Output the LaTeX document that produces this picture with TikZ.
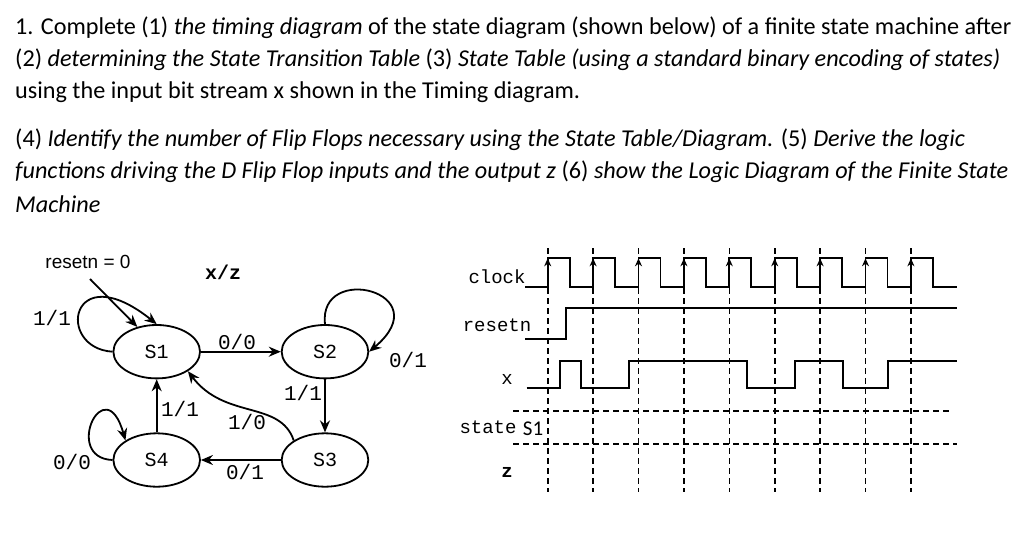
\documentclass[tikz,border=0pt]{standalone}
\usepackage{fontspec}
\setmainfont{Carlito}
\newfontfamily\monof{Liberation Mono}
\newfontfamily\arialf{Liberation Sans}
\usetikzlibrary{arrows.meta,shapes.geometric}
\begin{document}
\begin{tikzpicture}[x=1pt,y=-1pt,
  txt/.style={anchor=west,inner sep=0pt,font=\fontsize{24.2}{28}\selectfont},
  st/.style={draw,ellipse,line width=1.8pt,minimum width=86.6pt,minimum height=53.4pt,inner sep=0pt,font=\monof\fontsize{20}{22}\selectfont},
  lbl/.style={inner sep=0pt,font=\monof\fontsize{21}{23}\selectfont},
  tr/.style={line width=1.8pt,-{Stealth[length=12pt,width=10pt]}},
  wave/.style={line width=1.8pt},
  grid/.style={line width=1.6pt,dashed,dash pattern=on 5.5pt off 4.5pt},
  tl/.style={inner sep=0pt,font=\monof\fontsize{19}{21}\selectfont}]
\useasboundingbox (0,0) rectangle (1024,543);
% text
\node[txt] (t1) at (15,28) {1. Complete (1) \textit{the timing diagram} of the state diagram (shown below) of a finite state machine after};
\node[txt] (t2) at (15,60) {(2) \textit{determining the State Transition Table} (3) \textit{State Table (using a standard binary encoding of states)}};
\node[txt] (t3) at (15,92) {using the input bit stream x shown in the Timing diagram.};
\node[txt] (t4) at (15,140) {(4) \textit{Identify the number of Flip Flops necessary using the State Table/Diagram.} (5) \textit{Derive the logic}};
\node[txt] (t5) at (15,172) {\textit{functions driving the D Flip Flop inputs and the output z} (6) \textit{show the Logic Diagram of the Finite State}};
\node[txt] (t6) at (15,204) {\textit{Machine}};
% state diagram
\node[st] (s1) at (156.7,351.7) {S1};
\node[st] (s2) at (325,351.7) {S2};
\node[st] (s3) at (325,460) {S3};
\node[st] (s4) at (156.7,460) {S4};
\node[inner sep=0pt,font=\arialf\fontsize{19}{21}\selectfont] (rst) at (88,262) {resetn = 0};
\node[inner sep=0pt,font=\monof\bfseries\fontsize{20}{22}\selectfont] (xz) at (223,272) {x/z};
\coordinate (rs) at (90,279);
\draw[tr] (rs) -- (s1.128);
\draw[tr] (s1.west) .. controls (55,348) and (70,255) .. (s1.north);
\draw[tr] (s2.north) .. controls (318,262) and (440,292) .. (s2.east);
\draw[tr] (s4.west) .. controls (62,458) and (105,368) .. (s4.north west);
\draw[tr] (s1.east) -- (s2.west);
\draw[tr] (s2.south) -- (s3.north);
\draw[tr] (s4.north) -- (s1.south);
\draw[tr] (s3.north west) .. controls (280,400) and (225,420) .. (s1.south east);
\draw[tr] (s3.west) -- (s4.east);
\node[lbl] (l1) at (52,318) {1/1};
\node[lbl] (l2) at (237,342) {0/0};
\node[lbl] (l3) at (408,360) {0/1};
\node[lbl] (l4) at (303,393) {1/1};
\node[lbl] (l5) at (180,409) {1/1};
\node[lbl] (l6) at (247,422) {1/0};
\node[lbl] (l7) at (245,472) {0/1};
\node[lbl] (l8) at (72,462) {0/0};
% timing
\foreach \e in {547.7,593.1,638.5,683.9,729.3,774.7,820.1,865.5,910.9}{
  \draw[grid] (\e,248) -- (\e,492);
  \draw[wave,-{Stealth[length=8pt,width=7pt]}] (\e,286.7) -- (\e,258.3);
}
\draw[wave] (525,286.7)
 \foreach \e in {547.7,593.1,638.5,683.9,729.3,774.7,820.1,865.5,910.9}{ -- (\e,286.7) -- (\e,258.3) -- (\e+22,258.3) -- (\e+22,286.7)} -- (956.7,286.7);
\draw[wave] (525,339.3) -- (565.7,339.3) -- (565.7,307.7) -- (956.7,307.7);
\draw[wave] (526.7,387.7) -- (560,387.7) -- (560,360.7) -- (580.7,360.7) -- (580.7,387.7) -- (629,387.7) -- (629,360.7) -- (746.7,360.7) -- (746.7,387.7) -- (795,387.7) -- (795,360.7) -- (843.3,360.7) -- (843.3,387.7) -- (888.3,387.7) -- (888.3,360.7) -- (956.7,360.7);
\draw[grid] (513,410.7) -- (950,410.7);
\draw[grid] (513,444) -- (957,444);
\node[tl] (clk) at (497,277) {clock};
\node[tl] (rn) at (497,325) {resetn};
\node[tl] (xl) at (507,379) {x};
\node[tl] (stl) at (488,427) {state};
\node[inner sep=0pt,font=\fontsize{21}{23}\selectfont] (s1l) at (533,429) {S1};
\node[tl,font=\monof\bfseries\fontsize{19}{21}\selectfont] (zl) at (507,472) {z};
\end{tikzpicture}
\end{document}
